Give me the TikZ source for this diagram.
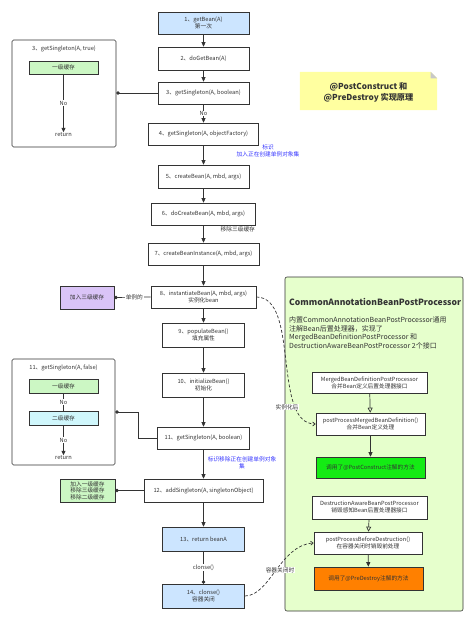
\documentclass[tikz,border=0pt]{standalone}
\usepackage{fontspec}
\setmainfont{Noto Sans CJK SC}
\usetikzlibrary{arrows.meta}
\definecolor{lineC}{RGB}{51,51,51}
\definecolor{blueF}{RGB}{204,229,255}
\definecolor{greenF}{RGB}{204,247,196}
\definecolor{cyanF}{RGB}{208,247,252}
\definecolor{purpleF}{RGB}{218,196,247}
\definecolor{panelF}{RGB}{230,255,204}
\definecolor{brightG}{RGB}{20,235,20}
\definecolor{orangeF}{RGB}{255,128,0}
\definecolor{noteF}{RGB}{255,255,160}
\definecolor{foldC}{RGB}{200,200,200}
\definecolor{labelB}{RGB}{51,51,255}
\newcommand{\mfont}{\fontsize{5.7}{7}\selectfont}
\begin{document}
\begin{tikzpicture}[x=1pt,y=-1pt,
  box/.style={draw=lineC, line width=0.6pt, fill=white, align=center, inner sep=0pt, font=\mfont, text=lineC},
  panel/.style={draw=lineC, line width=0.6pt, fill=white, rounded corners=1.5pt, inner sep=0pt},
  plain/.style={align=center, inner sep=0.5pt, font=\mfont, text=lineC},
  lab/.style={fill=white, inner sep=0.8pt, font=\mfont, text=lineC},
  bluelab/.style={align=center, inner sep=0pt, font=\mfont, text=labelB},
  arr/.style={draw=lineC, line width=0.7pt, -{Triangle[length=4.5pt,width=4pt]}},
  dotarr/.style={draw=lineC, line width=0.7pt, -{Circle[length=3.5pt]}},
  inh/.style={draw=lineC, line width=0.7pt, -{Triangle[open,length=5pt,width=5pt]}},
  dasharr/.style={draw=lineC, line width=0.7pt, dash pattern=on 3pt off 2pt, -{Straight Barb[length=2.5pt,width=4pt]}}
]
\useasboundingbox (0,0) rectangle (474,623);

% ---------- right panel ----------
\node[draw=lineC, line width=0.6pt, fill=panelF, rounded corners=2pt, minimum width=178pt, minimum height=334pt, inner sep=0pt] (rp) at (374,444) {};
\node[anchor=west, inner sep=0pt, font=\fontsize{8.6}{10}\selectfont\bfseries, text=lineC] (rpt) at (289,302) {CommonAnnotationBeanPostProcessor};
\node[anchor=north west, inner sep=0pt, align=left, font=\fontsize{7}{8.7}\selectfont, text=lineC] (rpp) at (289,316.5) {内置CommonAnnotationBeanPostProcessor通用\\注解Bean后置处理器，实现了\\MergedBeanDefinitionPostProcessor 和\\DestructionAwareBeanPostProcessor 2个接口};

\node[box, minimum width=115pt, minimum height=21pt] (r1) at (369.5,382.5) {MergedBeanDefinitionPostProcessor\\合并Bean定义后置处理器接口};
\node[box, minimum width=109pt, minimum height=22pt] (r2) at (370.5,424) {postProcessMergedBeanDefinition()\\合并Bean定义处理};
\node[box, fill=brightG, minimum width=109pt, minimum height=21pt] (r3) at (370.5,467.5) {调用了@PostConstruct注解的方法};
\node[box, minimum width=115pt, minimum height=23pt] (r4) at (369.5,507.5) {DestructionAwareBeanPostProcessor\\销毁感知Bean后置处理器接口};
\node[box, minimum width=108pt, minimum height=22pt] (r5) at (368,543) {postProcessBeforeDestruction()\\在容器关闭时销毁前处理};
\node[box, fill=orangeF, minimum width=109pt, minimum height=23pt] (r6) at (368.5,578.5) {调用了@PreDestroy注解的方法};
\draw[inh] (r1) -- (r2);
\draw[arr] (r2) -- (r3);
\draw[inh] (r4) -- (r5);
\draw[arr] (r5) -- (r6);

% ---------- note ----------
\node[minimum width=137pt, minimum height=38pt, inner sep=0pt] (note) at (368.5,91) {};
\fill[noteF] (note.north west) -- ([xshift=-6.5pt]note.north east) -- ([yshift=-6.5pt]note.north east) -- (note.south east) -- (note.south west) -- cycle;
\fill[foldC] ([xshift=-6.5pt]note.north east) -- ([yshift=-6.5pt]note.north east) -- ([xshift=-6.5pt,yshift=-6.5pt]note.north east) -- cycle;
\node[align=center, inner sep=0pt, font=\fontsize{8.2}{11}\selectfont\bfseries, text=lineC] (notet) at (368.5,92.5) {@PostConstruct 和\\@PreDestroy 实现原理};

% ---------- main column ----------
\node[box, fill=blueF, minimum width=91pt, minimum height=22pt] (b1) at (203.5,23) {1、getBean(A)\\第一次};
\node[box, minimum width=91pt, minimum height=23pt] (b2) at (203.5,58.5) {2、doGetBean(A)};
\node[box, minimum width=91pt, minimum height=22pt] (b3) at (203.5,93) {3、getSingleton(A, boolean)};
\node[box, minimum width=110pt, minimum height=22pt] (b4) at (203.5,134) {4、getSingleton(A, objectFactory)};
\node[box, minimum width=91pt, minimum height=23pt] (b5) at (203.5,176.5) {5、createBean(A, mbd, args)};
\node[box, minimum width=104pt, minimum height=22pt] (b6) at (203.5,214) {6、doCreateBean(A, mbd, args)};
\node[box, minimum width=111pt, minimum height=22pt] (b7) at (203.5,254) {7、createBeanInstance(A, mbd, args)};
\node[box, minimum width=105pt, minimum height=22pt] (b8) at (203.5,297) {8、instantiateBean(A, mbd, args)\\实例化bean};
\node[box, minimum width=82pt, minimum height=24pt] (b9) at (203.5,335) {9、populateBean()\\填充属性};
\node[box, minimum width=82pt, minimum height=24pt] (b10) at (203.5,385) {10、initializeBean()\\初始化};
\node[box, minimum width=92pt, minimum height=22pt] (b11) at (203.5,438) {11、getSingleton(A, boolean)};
\node[box, minimum width=119pt, minimum height=23pt] (b12) at (203.5,490.5) {12、addSingleton(A, singletonObject)};
\node[box, fill=blueF, minimum width=82pt, minimum height=24pt] (b13) at (203.5,539) {13、return beanA};
\node[box, fill=blueF, minimum width=82pt, minimum height=24pt] (b14) at (203.5,596) {14、clonse()\\容器关闭};

\draw[arr] (b1) -- (b2);
\draw[arr] (b2) -- (b3);
\draw[arr] (b3) -- (b4) node[lab, midway] {No};
\draw[arr] (b4) -- (b5);
\draw[arr] (b5) -- (b6);
\draw[arr] (b6) -- (b7);
\draw[arr] (b7) -- (b8);
\draw[arr] (b8) -- (b9);
\draw[arr] (b9) -- (b10);
\draw[arr] (b10) -- (b11);
\draw[arr] (b11) -- (b12);
\draw[arr] (b12) -- (b13);
\draw[dotarr] (b13) -- (b14) node[lab, midway] {clonse()};

\node[bluelab] (l1) at (268,151) {标识\\加入正在创建单例对象集};
\node[plain, anchor=west] (l2) at (220,229) {移除三级缓存};
\node[bluelab] (l3) at (242,462.5) {标识移除正在创建单例对象\\集};

% ---------- left panel A ----------
\node[panel, minimum width=104pt, minimum height=107pt] (pA) at (64,93.5) {};
\node[plain] (pAt) at (64,49) {3、getSingleton(A, true)};
\node[box, fill=greenF, minimum width=69pt, minimum height=13pt] (pA1) at (63.5,67.5) {一级缓存};
\node[plain] (pAr) at (63.5,135) {return};
\draw[arr] (pA1) -- (pAr) node[lab, midway] {No};
\draw[dotarr] (b3.west) -- (b3.west -| pA.east);

% ---------- purple ----------
\node[box, fill=purpleF, minimum width=54pt, minimum height=23pt] (pu) at (87,297.5) {加入三级缓存};
\draw[dotarr] (b8.west) -- (pu.east) node[lab, pos=0.45] {单例的};

% ---------- left panel B ----------
\node[panel, minimum width=103pt, minimum height=106pt] (pB) at (63.5,412) {};
\node[plain] (pBt) at (63.5,368) {11、getSingleton(A, false)};
\node[box, fill=greenF, minimum width=69pt, minimum height=14pt] (pB1) at (63.5,386) {一级缓存};
\node[box, fill=cyanF, minimum width=69pt, minimum height=14pt] (pB2) at (63.5,418) {二级缓存};
\node[plain] (pBr) at (63.5,458) {return};
\draw[draw=lineC, line width=0.7pt] (pB1) -- (pB2) node[lab, midway] {No};
\draw[arr] (pB2) -- (pBr) node[lab, midway] {No};
\draw[dotarr] (b11.west) -- ++(-19,0) |- (pB.east);

% ---------- green bottom-left ----------
\node[box, fill=greenF, minimum width=55pt, minimum height=23pt, font=\fontsize{5.7}{6.6}\selectfont] (g3) at (87.5,490.5) {加入一级缓存\\移除三级缓存\\移除二级缓存};
\draw[dotarr] (b12.west) -- (g3.east);

% ---------- dashed connectors ----------
\draw[dasharr] (b8.east) .. controls (300,297) and (272,424) .. (r2.west);
\node[lab] (l4) at (287,407) {实例化后};
\draw[dasharr] (b14.east) .. controls (270,596) and (280,545) .. (r5.west);
\node[lab] (l5) at (280,570) {容器关闭时};
\end{tikzpicture}
\end{document}
